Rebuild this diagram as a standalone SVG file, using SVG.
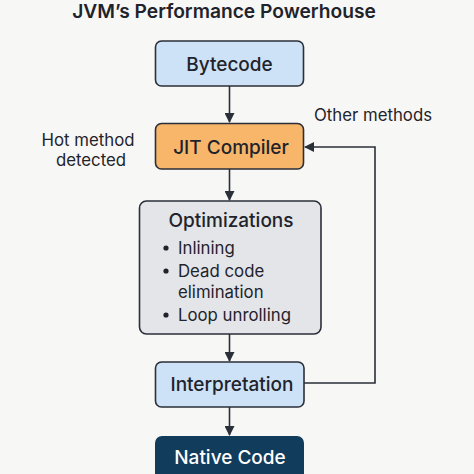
<svg xmlns="http://www.w3.org/2000/svg" width="474" height="474" viewBox="0 0 474 474">
<defs>
<style>
text{font-family:"Inter","Liberation Sans",Arial,sans-serif;fill:#1f232b}
.box{stroke:#2b2f38;stroke-width:1.6}
.lbl{font-size:19px;font-weight:500;text-anchor:middle}
.sm{font-size:16.8px}
.edge{fill:none;stroke:#2b2f38;stroke-width:1.6}
</style>
<marker id="ahs" viewBox="0 0 10 10" refX="9" refY="5" markerWidth="10" markerHeight="10" orient="auto" markerUnits="userSpaceOnUse">
<path d="M0,0 L10,5 L0,10 z" fill="#2b2f38"/>
</marker>
</defs>
<rect width="474" height="474" fill="#f7f7f5"/>
<text x="224" y="18" style="font-size:19.2px;font-weight:600;text-anchor:middle">JVM’s Performance Powerhouse</text>
<g id="connectors">
<line class="edge" x1="229.5" y1="86" x2="229.5" y2="122" marker-end="url(#ahs)"/>
<line class="edge" x1="229.5" y1="169" x2="229.5" y2="200" marker-end="url(#ahs)"/>
<line class="edge" x1="229.5" y1="334" x2="229.5" y2="361" marker-end="url(#ahs)"/>
<line class="edge" x1="229.5" y1="407" x2="229.5" y2="435" marker-end="url(#ahs)"/>
<polyline class="edge" points="304,383 375,383 375,147 305,147" marker-end="url(#ahs)"/>
</g>
<g id="label-other"><text class="sm" x="373" y="121" text-anchor="middle">Other methods</text></g>
<g id="label-hot"><text class="sm" x="88" y="146" text-anchor="middle">Hot method</text><text class="sm" x="91" y="166" text-anchor="middle">detected</text></g>
<g id="bytecode">
<rect class="box" x="155.5" y="41" width="148" height="45" rx="6" fill="#cde2f6"/>
<text class="lbl" x="229.5" y="71">Bytecode</text>
</g>
<g id="jit">
<rect class="box" x="155.5" y="123.5" width="148" height="45.5" rx="6" fill="#f8b66a"/>
<text class="lbl" x="231" y="154">JIT Compiler</text>
</g>
<g id="optimizations">
<rect class="box" x="139.5" y="201" width="181.5" height="133" rx="7" fill="#e3e5e9"/>
<text class="lbl" x="231" y="227">Optimizations</text>
<circle cx="166" cy="248" r="2.6" fill="#1f232b"/>
<text class="sm" x="178" y="254">Inlining</text>
<circle cx="166" cy="271" r="2.6" fill="#1f232b"/>
<text class="sm" x="178" y="277">Dead code</text>
<text class="sm" x="178" y="298">elimination</text>
<circle cx="166" cy="315" r="2.6" fill="#1f232b"/>
<text class="sm" x="178" y="321">Loop unrolling</text>
</g>
<g id="interpretation">
<rect class="box" x="155.5" y="362" width="148.5" height="45" rx="6" fill="#cde2f6"/>
<text class="lbl" x="232" y="391">Interpretation</text>
</g>
<g id="native">
<rect x="155" y="436" width="149" height="50" rx="7" fill="#123c5c"/>
<text class="lbl" x="230" y="464" style="fill:#ffffff">Native Code</text>
</g>
</svg>
